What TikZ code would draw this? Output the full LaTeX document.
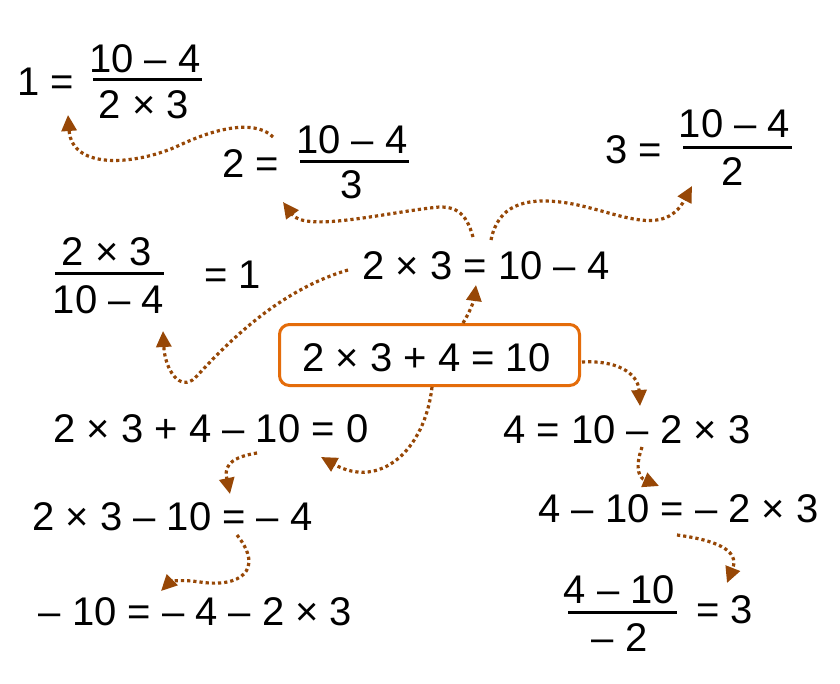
\documentclass[tikz,border=0pt]{standalone}
\usepackage{fontspec}
\setmainfont{Liberation Sans}
\usetikzlibrary{arrows.meta}
\definecolor{arrowbrown}{HTML}{974706}
\definecolor{boxorange}{HTML}{E46C0A}
\begin{document}
\begin{tikzpicture}[x=1pt,y=-1pt,
  eq/.style={anchor=base,inner sep=0pt,font=\fontsize{40}{48}\selectfont},
  fracbar/.style={line width=3pt},
  framebox/.style={draw=boxorange,line width=3pt,rounded corners=10pt,minimum width=300pt,minimum height=61pt,inner sep=0pt},
  link/.style={draw=arrowbrown,line width=3.2pt,dash pattern=on 3.2pt off 3pt,-{Triangle[length=16pt,width=15pt]}}]
\useasboundingbox (0,0) rectangle (840,683);
\fill[white] (0,0) rectangle (840,683);

% 1 = (10-4)/(2x3)
\node[eq] (f1eq) at (46,95) {1 =};
\node[eq] (f1num) at (145,72) {10 – 4};
\node[eq] (f1den) at (144,118) {2 × 3};
\coordinate (f1l) at (93,79); \coordinate (f1r) at (202,79);
\draw[fracbar] (f1l) -- (f1r);

% 2 = (10-4)/3
\node[eq] (f2eq) at (251,177) {2 =};
\node[eq] (f2num) at (352,153) {10 – 4};
\node[eq] (f2den) at (351.5,198) {3};
\coordinate (f2l) at (300,161); \coordinate (f2r) at (409,161);
\draw[fracbar] (f2l) -- (f2r);

% 3 = (10-4)/2
\node[eq] (f3eq) at (634,163) {3 =};
\node[eq] (f3num) at (734.5,137) {10 – 4};
\node[eq] (f3den) at (733,185) {2};
\coordinate (f3l) at (683,147); \coordinate (f3r) at (792,147);
\draw[fracbar] (f3l) -- (f3r);

% (2x3)/(10-4) = 1
\node[eq] (f4num) at (107,265) {2 × 3};
\node[eq] (f4den) at (108.5,313) {10 – 4};
\node[eq] (f4eq) at (232.5,288) {= 1};
\coordinate (f4l) at (55,273); \coordinate (f4r) at (164,273);
\draw[fracbar] (f4l) -- (f4r);

% 2x3 = 10-4
\node[eq] (e5) at (486,279) {2 × 3 = 10 – 4};

% central box
\node[framebox] (box) at (429.5,355) {};
\node[eq] (e0) at (426.5,371) {2 × 3 + 4 = 10};

\node[eq] (e6) at (211,442) {2 × 3 + 4 – 10 = 0};
\node[eq] (e7) at (627,443) {4 = 10 – 2 × 3};
\node[eq] (e8) at (172.5,530) {2 × 3 – 10 = – 4};
\node[eq] (e9) at (678.5,522) {4 – 10 = – 2 × 3};
\node[eq] (e10) at (195.5,625) {– 10 = – 4 – 2 × 3};

% (4-10)/(-2) = 3
\node[eq] (f11num) at (619.5,603) {4 – 10};
\node[eq] (f11den) at (619.5,651) {– 2};
\node[eq] (f11eq) at (724.5,623) {= 3};
\coordinate (f11l) at (568,612); \coordinate (f11r) at (677,612);
\draw[fracbar] (f11l) -- (f11r);

% connector end points
\coordinate (a1s) at (273,137); \coordinate (a1e) at (68,115);
\coordinate (a2s) at (473,237); \coordinate (a2e) at (283,202);
\coordinate (a3s) at (491,240); \coordinate (a3e) at (692,186);
\coordinate (a4s) at (348,270); \coordinate (a4e) at (163,331);
\coordinate (a5s) at (463,323); \coordinate (a5e) at (476,285);
\coordinate (a6s) at (582,362); \coordinate (a6e) at (640,406);
\coordinate (a7s) at (432,387); \coordinate (a7e) at (321,457);
\coordinate (a8s) at (257,453); \coordinate (a8e) at (230,494);
\coordinate (a9s) at (237,535); \coordinate (a9e) at (161,591);
\coordinate (a10s) at (642,447); \coordinate (a10e) at (659,486);
\coordinate (a11s) at (677,535); \coordinate (a11e) at (727,583);

\draw[link] (a1s) .. controls (258,122) and (225,124) .. (180,145) .. controls (140,164) and (72,172) .. (a1e);
\draw[link] (a2s) .. controls (466,212) and (455,204) .. (430,208) .. controls (380,214) and (305,232) .. (a2e);
\draw[link] (a3s) .. controls (498,205) and (525,198) .. (560,202) .. controls (612,208) and (662,242) .. (a3e);
\draw[link] (a4s) .. controls (280,290) and (230,340) .. (195,378) .. controls (180,392) and (165,370) .. (a4e);
\draw[link] (a5s) .. controls (470,312) and (474,300) .. (a5e);
\draw[link] (a6s) .. controls (615,360) and (638,372) .. (a6e);
\draw[link] (a7s) .. controls (425,450) and (380,490) .. (a7e);
\draw[link] (a8s) .. controls (225,458) and (225,470) .. (a8e);
\draw[link] (a9s) .. controls (265,570) and (240,588) .. (200,582) .. controls (180,579) and (170,582) .. (a9e);
\draw[link] (a10s) .. controls (634,470) and (640,478) .. (a10e);
\draw[link] (a11s) .. controls (715,540) and (740,550) .. (a11e);
\end{tikzpicture}
\end{document}
